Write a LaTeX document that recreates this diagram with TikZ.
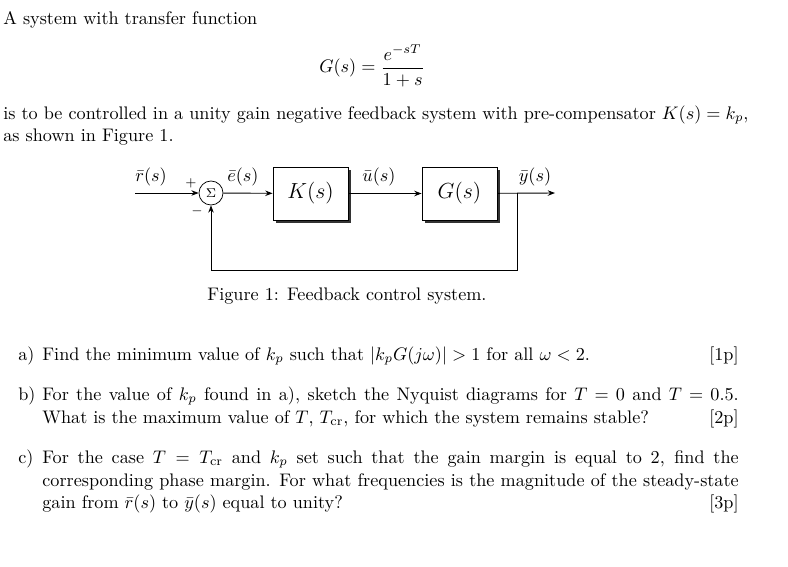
\documentclass[tikz,border=0pt]{standalone}
\usepackage{amsmath}
\usetikzlibrary{shadows,arrows.meta}
\begin{document}
\begin{tikzpicture}[x=0.55pt,y=-0.55pt,
  blk/.style={draw,fill=white,minimum width=75*0.55pt,minimum height=53*0.55pt,line width=0.5pt,font=\large,
    drop shadow={shadow xshift=1.6pt,shadow yshift=-1.6pt,fill=black!80,opacity=1}},
  sig/.style={-{Stealth[length=4pt,width=3pt]},line width=0.5pt},
  lbl/.style={inner sep=1pt},
  txt/.style={anchor=base west,inner sep=0pt},
  jl/.style={anchor=base west,inner sep=0pt,text width=383pt,align=justify}]
\useasboundingbox (0,0) rectangle (788,566);
\node[txt] (t1) at (3,24) {A system with transfer function};
\node[inner sep=0pt] (eq) at (372,66) {$G(s)=\dfrac{e^{-sT}}{1+s}$};
\node[txt] (t2) at (3,119) {is to be controlled in a unity gain negative feedback system with pre-compensator $K(s)=k_p$,};
\node[txt] (t3) at (3,141) {as shown in Figure 1.};
% diagram
\node[draw,circle,inner sep=0pt,minimum size=24*0.55pt,font=\scriptsize] (sum) at (211,193) {$\Sigma$};
\node[blk] (K) at (310.5,193.5) {$K(s)$};
\node[blk] (G) at (459.5,193.5) {$G(s)$};
\coordinate (rin) at (135,193);
\coordinate (br) at (517,193);
\coordinate (yout) at (555,193);
\coordinate (bl) at (517,270);
\coordinate (bll) at (211,270);
\draw[sig] (rin) -- (sum);
\draw[sig] (sum) -- (K);
\draw[sig] (K) -- (G);
\draw[sig] (G) -- (yout);
\draw[sig] (br) -- (bl) -- (bll) -- (sum);
\node[lbl] (lr) at (151,177) {$\bar r(s)$};
\node[font=\scriptsize,inner sep=0pt] (lp) at (191,183) {$+$};
\node[font=\scriptsize,inner sep=0pt] (lm) at (197,211) {$-$};
\node[lbl] (le) at (243,177) {$\bar e(s)$};
\node[lbl] (lu) at (379,177) {$\bar u(s)$};
\node[lbl] (ly) at (535,177) {$\bar y(s)$};
\node (cap) at (347,296) {Figure 1: Feedback control system.};
% questions
\node[txt] (qa) at (18,360) {a)};
\node[txt] (qat) at (42,360) {Find the minimum value of $k_p$ such that $|k_pG(j\omega)|>1$ for all $\omega<2$.};
\node[anchor=base east,inner sep=0pt] (pa) at (739,360) {[1p]};
\node[txt] (qb) at (18,400) {b)};
\node[jl] (qb1) at (42,400) {For the value of $k_p$ found in a), sketch the Nyquist diagrams for $T=0$ and $T=0.5$.\linebreak};
\node[txt] (qb2) at (42,423) {What is the maximum value of $T$, $T_{\mathrm{cr}}$, for which the system remains stable?};
\node[anchor=base east,inner sep=0pt] (pb) at (739,423) {[2p]};
\node[txt] (qc) at (18,463) {c)};
\node[jl] (qc1) at (42,463) {For the case $T=T_{\mathrm{cr}}$ and $k_p$ set such that the gain margin is equal to 2, find the\linebreak};
\node[jl] (qc2) at (42,486) {corresponding phase margin. For what frequencies is the magnitude of the steady-state\linebreak};
\node[txt] (qc3) at (42,508) {gain from $\bar r(s)$ to $\bar y(s)$ equal to unity?};
\node[anchor=base east,inner sep=0pt] (pc) at (739,508) {[3p]};
\end{tikzpicture}
\end{document}
